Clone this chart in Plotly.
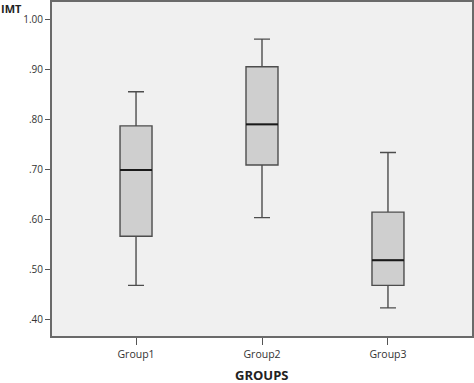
import plotly.graph_objects as go

categories = ["Group1", "Group2", "Group3"]
lower_whisker = [0.469, 0.604, 0.424]
q1_vals = [0.567, 0.709, 0.469]
median_vals = [0.699, 0.790, 0.519]
q3_vals = [0.787, 0.905, 0.615]
upper_whisker = [0.855, 0.960, 0.734]
y_tick_vals = [0.4, 0.5, 0.6, 0.7, 0.8, 0.9, 1.0]
y_tick_text = [".40", ".50", ".60", ".70", ".80", ".90", "1.00"]

positions = list(range(len(categories)))
box_w = 0.254

fig = go.Figure()
fig.add_trace(go.Box(
    x=positions, q1=q1_vals, median=median_vals, q3=q3_vals,
    lowerfence=lower_whisker, upperfence=upper_whisker,
    width=box_w, whiskerwidth=0.5,
    fillcolor="#cfcfcf", line=dict(color="#4d4d4d", width=1.4),
    boxpoints=False, showlegend=False, hoverinfo="skip",
))
# darker median lines
for p, m in zip(positions, median_vals):
    fig.add_trace(go.Scatter(
        x=[p - box_w / 2, p + box_w / 2], y=[m, m], mode="lines",
        line=dict(color="#1a1a1a", width=2), showlegend=False, hoverinfo="skip",
    ))

axis_font = dict(family="Open Sans, sans-serif", size=10, color="#333333")
xfont = dict(family="Open Sans, sans-serif", size=10.5, color="#333333")
fig.update_layout(
    width=474, height=383,
    margin=dict(l=52, r=2, t=2, b=47, autoexpand=False),
    paper_bgcolor="white", plot_bgcolor="#f0f0f0",
    font=axis_font,
    xaxis=dict(range=[-0.667, 2.667], tickvals=positions, ticktext=categories,
               ticks="outside", ticklen=7, tickwidth=1.2, tickcolor="#555555",
               showgrid=False, zeroline=False, showline=True, linecolor="#6a6a6a",
               linewidth=2, mirror=True, tickfont=xfont, automargin=False),
    yaxis=dict(range=[0.368, 1.034], tickvals=y_tick_vals, ticktext=y_tick_text,
               ticks="outside", ticklen=5, tickwidth=1.2, tickcolor="#555555",
               showgrid=False, zeroline=False, showline=True, linecolor="#6a6a6a",
               linewidth=2, mirror=True, tickfont=axis_font, automargin=False),
    annotations=[
        dict(text="<b>IMT</b>", xref="paper", yref="paper", x=0, y=1,
             xshift=-53, yshift=-6, xanchor="left", yanchor="middle", showarrow=False,
             font=dict(family="Open Sans, sans-serif", size=11, color="#222222")),
        dict(text="<b>GROUPS</b>", xref="paper", yref="paper", x=0.5, y=0,
             yshift=-39, xanchor="center", yanchor="middle", showarrow=False,
             font=dict(family="Open Sans, sans-serif", size=13, color="#222222")),
    ],
)
fig.write_html("out.html", config={"displayModeBar": False},
               post_script="document.body.style.margin='0';")
